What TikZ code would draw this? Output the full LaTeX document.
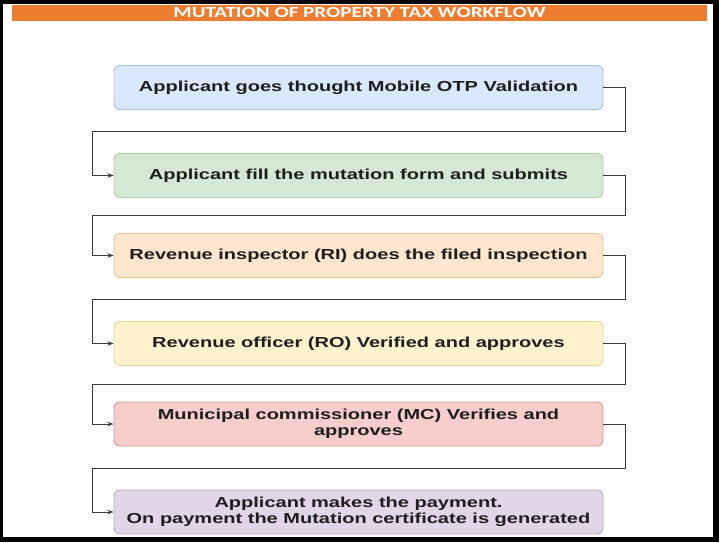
\documentclass[tikz,border=0pt]{standalone}
\usepackage{fontspec}
\setmainfont{Liberation Sans}
\newfontfamily\boxfont[FakeStretch=1.38]{Liberation Sans}
\newfontfamily\bannerfont[FakeStretch=1.37]{Carlito}
\usetikzlibrary{arrows.meta}
\definecolor{bannerorange}{HTML}{ED7D31}
\definecolor{fblue}{HTML}{DAE8FC}\definecolor{sblue}{HTML}{A7BEDD}
\definecolor{fgreen}{HTML}{D5E8D4}\definecolor{sgreen}{HTML}{ABCFA0}
\definecolor{forange}{HTML}{FFE6CC}\definecolor{sorange}{HTML}{E8C28C}
\definecolor{fyellow}{HTML}{FFF2CC}\definecolor{syellow}{HTML}{E6D594}
\definecolor{fred}{HTML}{F8CECC}\definecolor{sred}{HTML}{D39896}
\definecolor{fpurple}{HTML}{E1D5E7}\definecolor{spurple}{HTML}{B8A5C4}
\definecolor{linegray}{HTML}{3A3A3A}
\definecolor{textdark}{HTML}{1E1E1E}
\tikzset{
  banner/.style={fill=bannerorange, minimum width=695pt, minimum height=16pt, inner sep=0pt,
    text=white, font=\bannerfont\bfseries\fontsize{15.4}{15.4}\selectfont},
  stepbox/.style={rounded corners=6pt, line width=0.9pt, minimum width=489pt, minimum height=44pt,
    inner sep=0pt, align=center, text=textdark,
    font=\boxfont\bfseries\fontsize{14.5}{16}\selectfont},
  flow/.style={draw=linegray, line width=1pt, -{Stealth[length=6pt,width=4.5pt]}},
}
\begin{document}
\begin{tikzpicture}[x=1pt,y=-1pt]
\fill[black] (0,0) rectangle (719,542);
\fill[white] (3,4) rectangle (713,537);
\useasboundingbox (0,0) rectangle (719,542);
\node[banner] (title) at (359.5,13) {MUTATION OF PROPERTY TAX WORKFLOW};
\node[stepbox, fill=fblue, draw=sblue] (b1) at (358.5,87.5) {Applicant goes thought Mobile OTP Validation};
\node[stepbox, fill=fgreen, draw=sgreen] (b2) at (358.5,175.5) {Applicant fill the mutation form and submits};
\node[stepbox, fill=forange, draw=sorange] (b3) at (358.5,255.5) {Revenue inspector (RI) does the filed inspection};
\node[stepbox, fill=fyellow, draw=syellow] (b4) at (358.5,343.5) {Revenue officer (RO) Verified and approves};
\node[stepbox, fill=fred, draw=sred] (b5) at (358.5,424) {Municipal commissioner (MC) Verifies and\\approves};
\node[stepbox, fill=fpurple, draw=spurple] (b6) at (358.5,512) {Applicant makes the payment.\\On payment the Mutation certificate is generated};
\coordinate (r1) at (625,131); \coordinate (l1) at (92,131);
\coordinate (r2) at (625,215); \coordinate (l2) at (92,215);
\coordinate (r3) at (625,299); \coordinate (l3) at (92,299);
\coordinate (r4) at (625,384); \coordinate (l4) at (92,384);
\coordinate (r5) at (625,468); \coordinate (l5) at (92,468);
\draw[flow] (b1.east) -| (r1) -- (l1) |- (b2.west);
\draw[flow] (b2.east) -| (r2) -- (l2) |- (b3.west);
\draw[flow] (b3.east) -| (r3) -- (l3) |- (b4.west);
\draw[flow] (b4.east) -| (r4) -- (l4) |- (b5.west);
\draw[flow] (b5.east) -| (r5) -- (l5) |- (b6.west);
\end{tikzpicture}
\end{document}
